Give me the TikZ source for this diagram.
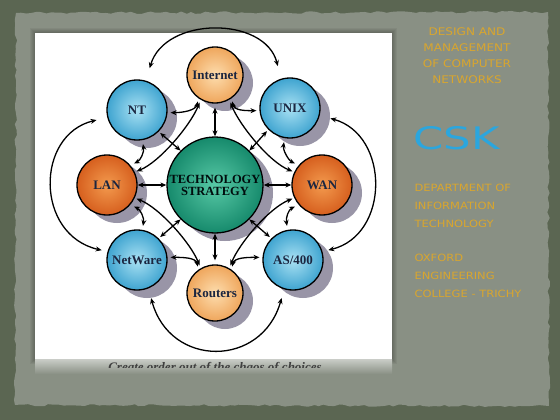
\documentclass[tikz,border=0pt]{standalone}
\usepackage{fontspec}
\setmainfont{Liberation Serif}
\newfontfamily\handfont[FakeStretch=1.15]{DejaVu Sans}
\newfontfamily\cskfont[FakeStretch=1.4]{DejaVu Sans}
\usetikzlibrary{arrows.meta,decorations.pathmorphing,shadows}
\definecolor{bgdark}{HTML}{5B6652}
\definecolor{paper}{HTML}{899084}
\definecolor{shadowc}{HTML}{8E8A9E}
\definecolor{gold}{HTML}{D9A62E}
\definecolor{cskblue}{HTML}{2BA6DE}
\definecolor{navy}{HTML}{1B2640}
\definecolor{blueIn}{HTML}{A9E1F3}
\definecolor{blueOut}{HTML}{3FA4D0}
\definecolor{orIn}{HTML}{F39A4E}
\definecolor{orOut}{HTML}{D65F1E}
\definecolor{peIn}{HTML}{FDDDAE}
\definecolor{peOut}{HTML}{EFA65C}
\definecolor{teIn}{HTML}{58C9A6}
\definecolor{teOut}{HTML}{168A6C}
\tikzset{
  circ/.style={circle, draw=black, line width=1.3pt, minimum size=#1, inner sep=0pt,
    font=\bfseries\fontsize{13}{13}\selectfont, text=navy,
    drop shadow={shadow xshift=10pt, shadow yshift=-8pt, fill=shadowc, opacity=0.9}},
  bluec/.style={circ=60pt, inner color=blueIn, outer color=blueOut},
  orangec/.style={circ=60pt, inner color=orIn, outer color=orOut},
  peachc/.style={circ=56pt, inner color=peIn, outer color=peOut},
  tealc/.style={circ=96pt, inner color=teIn, outer color=teOut,
    font=\bfseries\fontsize{12.5}{12}\selectfont, text=black!90!teal, align=center},
  dbl/.style={{Stealth[length=6pt,width=5pt]}-{Stealth[length=6pt,width=5pt]},
    line width=1.3pt, black},
  titletext/.style={font=\handfont\fontsize{10.5}{10.5}\selectfont, text=gold, anchor=base},
  sidetext/.style={font=\handfont\fontsize{10}{10}\selectfont, text=gold, anchor=base west},
}
\begin{document}
\begin{tikzpicture}[x=1pt,y=-1pt]
\useasboundingbox (0,0) rectangle (560,420);
\fill[bgdark] (0,0) rectangle (560,420);
\pgfmathsetseed{7}
\fill[paper, decorate, decoration={random steps,segment length=5pt,amplitude=1.2pt}]
  (16,13) -- (548,12) -- (549,406) -- (15,405) -- cycle;
% shadow round the white panel
\foreach \i in {1,...,5}{
  \fill[black, opacity=0.05] (35-\i,33-\i) rectangle (392+\i,359+\i);
}
\fill[white] (35,33) rectangle (392,359);
\shade[top color=white!55!paper, bottom color=paper] (35,359) rectangle (392,374);
% caption, cut by the lower edge of the picture
\begin{scope}
  \clip (35,340) rectangle (392,367);
  \node[font=\bfseries\itshape\fontsize{13}{13}\selectfont, text=black!75, anchor=base] (cap) at (215,371)
    {Create order out of the chaos of choices};
\end{scope}

% circles
\node[peachc] (INT) at (215,75) {Internet};
\node[bluec] (NT) at (137,110) {NT};
\node[bluec] (UX) at (290,108) {UNIX};
\node[orangec] (LAN) at (107,185) {LAN};
\node[orangec] (WAN) at (322,185) {WAN};
\node[tealc] (TS) at (215,185) {TECHNOLOGY\\STRATEGY};
\node[bluec] (NW) at (137,260) {NetWare};
\node[bluec] (AS) at (293,260) {AS/400};
\node[peachc] (RT) at (215,293) {Routers};

% outer arcs
\draw[dbl, shorten <=13pt, shorten >=13pt] (NT.73) .. controls (165,16) and (265,16) .. (UX.107);
\draw[dbl, shorten <=11pt, shorten >=6pt] (NT.194) .. controls (35,135) and (35,235) .. (NW.164);
\draw[dbl, shorten <=11pt, shorten >=6pt] (UX.-14) .. controls (390,135) and (390,235) .. (AS.16);
\draw[dbl, shorten <=10pt, shorten >=9pt] (NW.-68) .. controls (170,368) and (262,368) .. (AS.-107);

% spokes
\draw[dbl, shorten <=4pt] (INT.south) -- (TS.north);
\draw[dbl] (LAN.east) -- (TS.west);
\draw[dbl] (TS.east) -- (WAN.west);
\draw[dbl, shorten >=4pt] (TS.south) -- (RT.north);
\draw[dbl, shorten <=2pt] (NT.-45) -- (TS.135);
\draw[dbl, shorten <=2pt] (UX.-135) -- (TS.45);
\draw[dbl, shorten <=2pt] (NW.45) -- (TS.-135);
\draw[dbl, shorten <=2pt] (AS.135) -- (TS.-45);

% short curved links between neighbours
\draw[dbl, shorten <=3pt, shorten >=3pt] (NT.-5) .. controls +(15,0) and +(-3,12) .. (INT.-125);
\draw[dbl, shorten <=3pt, shorten >=3pt] (INT.-55) .. controls +(3,12) and +(-15,0) .. (UX.185);
\draw[dbl, shorten <=4pt, shorten >=4pt] (NT.-80) .. controls +(2,12) and +(10,-5) .. (LAN.40);
\draw[dbl, shorten <=4pt, shorten >=4pt] (UX.-100) .. controls +(-2,12) and +(-10,-5) .. (WAN.140);
\draw[dbl, shorten <=4pt, shorten >=4pt] (LAN.-40) .. controls +(10,5) and +(2,-12) .. (NW.80);
\draw[dbl, shorten <=4pt, shorten >=4pt] (WAN.-140) .. controls +(-10,5) and +(-2,-12) .. (AS.100);
\draw[dbl, shorten <=3pt, shorten >=3pt] (NW.5) .. controls +(15,0) and +(-3,-12) .. (RT.125);
\draw[dbl, shorten <=3pt, shorten >=3pt] (AS.175) .. controls +(-15,0) and +(3,-12) .. (RT.55);

% long curves round the centre
\draw[dbl, shorten <=2pt, shorten >=3pt] (LAN.25) .. controls +(25,-10) and +(-10,25) .. (INT.-120);
\draw[dbl, shorten <=3pt, shorten >=2pt] (INT.-60) .. controls +(10,25) and +(-25,-10) .. (WAN.155);
\draw[dbl, shorten <=2pt, shorten >=3pt] (WAN.-155) .. controls +(-25,10) and +(10,-25) .. (RT.60);
\draw[dbl, shorten <=3pt, shorten >=2pt] (RT.120) .. controls +(-10,-25) and +(25,10) .. (LAN.-25);

% right-hand panel
\node[titletext] (d1) at (467,36) {DESIGN AND};
\node[titletext] (d2) at (467,52) {MANAGEMENT};
\node[titletext] (d3) at (467,68) {OF COMPUTER};
\node[titletext] (d4) at (467,84) {NETWORKS};
\node[font=\cskfont\fontsize{31}{31}\selectfont, text=cskblue, anchor=base west] (csk) at (410,149.5) {CSK};
\node[sidetext] (p1) at (411,191) {DEPARTMENT OF};
\node[sidetext] (p2) at (411,209) {INFORMATION};
\node[sidetext] (p3) at (411,227) {TECHNOLOGY};
\node[sidetext] (p4) at (411,261) {OXFORD};
\node[sidetext] (p5) at (411,279) {ENGINEERING};
\node[sidetext] (p6) at (411,297) {COLLEGE - TRICHY};
\end{tikzpicture}
\end{document}
